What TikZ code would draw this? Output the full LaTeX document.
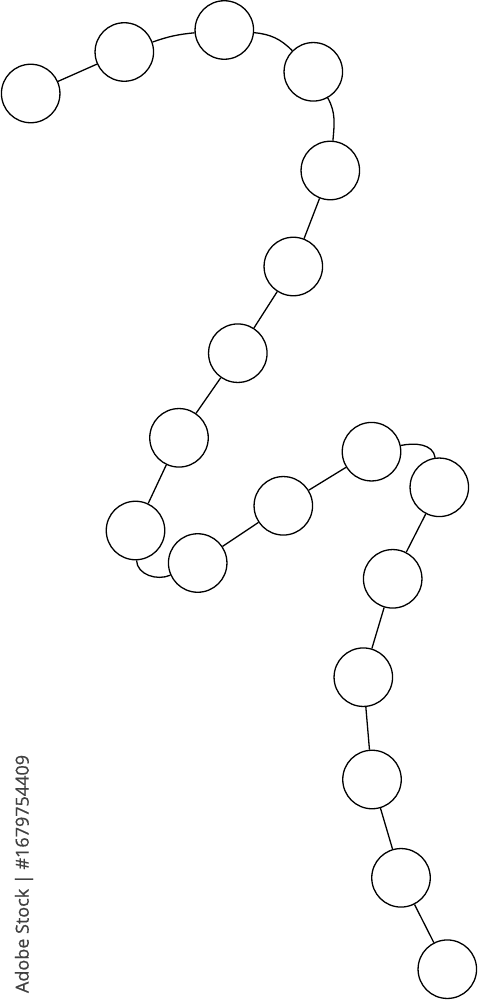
\documentclass[tikz,border=0pt]{standalone}
\usepackage{fontspec}
\setmainfont{Open Sans}
\begin{document}
\begin{tikzpicture}[x=1pt,y=-1pt,
  bead/.style={circle,draw=black,line width=1.3pt,minimum size=58.5pt,inner sep=0pt,fill=white},
  link/.style={draw=black,line width=1.3pt}]
\path[use as bounding box] (0,0) rectangle (478,1000);
\node[bead] (c1) at (30.7,93.5) {};
\node[bead] (c2) at (124.3,52) {};
\node[bead] (c3) at (224.3,30) {};
\node[bead] (c4) at (313.3,71.8) {};
\node[bead] (c5) at (330.3,170.5) {};
\node[bead] (c6) at (293.3,266.5) {};
\node[bead] (c7) at (237.8,353.2) {};
\node[bead] (c8) at (179,437.8) {};
\node[bead] (c9) at (135.5,530.5) {};
\node[bead] (c10) at (197.7,563) {};
\node[bead] (c11) at (283.3,505.8) {};
\node[bead] (c12) at (371.5,451.7) {};
\node[bead] (c13) at (439.3,487.3) {};
\node[bead] (c14) at (392.7,578.8) {};
\node[bead] (c15) at (363.3,677.2) {};
\node[bead] (c16) at (372,779.5) {};
\node[bead] (c17) at (401,877.8) {};
\node[bead] (c18) at (447.3,969.2) {};
\draw[link] (c1) -- (c2);
\draw[link] (c2) to[bend left=7] (c3);
\draw[link] (c3) to[bend left=20] (c4);
\draw[link] (c4) to[out=-61,in=85] (c5);
\draw[link] (c5) -- (c6);
\draw[link] (c6) -- (c7);
\draw[link] (c7) -- (c8);
\draw[link] (c8) -- (c9);
\draw[link] (c9) to[out=-88,in=204] (c10);
\draw[link] (c10) -- (c11);
\draw[link] (c11) -- (c12);
\draw[link] (c12) to[out=12,in=98] (c13);
\draw[link] (c13) -- (c14);
\draw[link] (c14) -- (c15);
\draw[link] (c15) -- (c16);
\draw[link] (c16) -- (c17);
\draw[link] (c17) -- (c18);
\node[rotate=90,text=black!75,font=\fontsize{18}{21}\selectfont\addfontfeature{FakeBold=0.6},inner sep=0pt] (wm) at (24,874) {Adobe Stock | \#1679754409};
\end{tikzpicture}
\end{document}
